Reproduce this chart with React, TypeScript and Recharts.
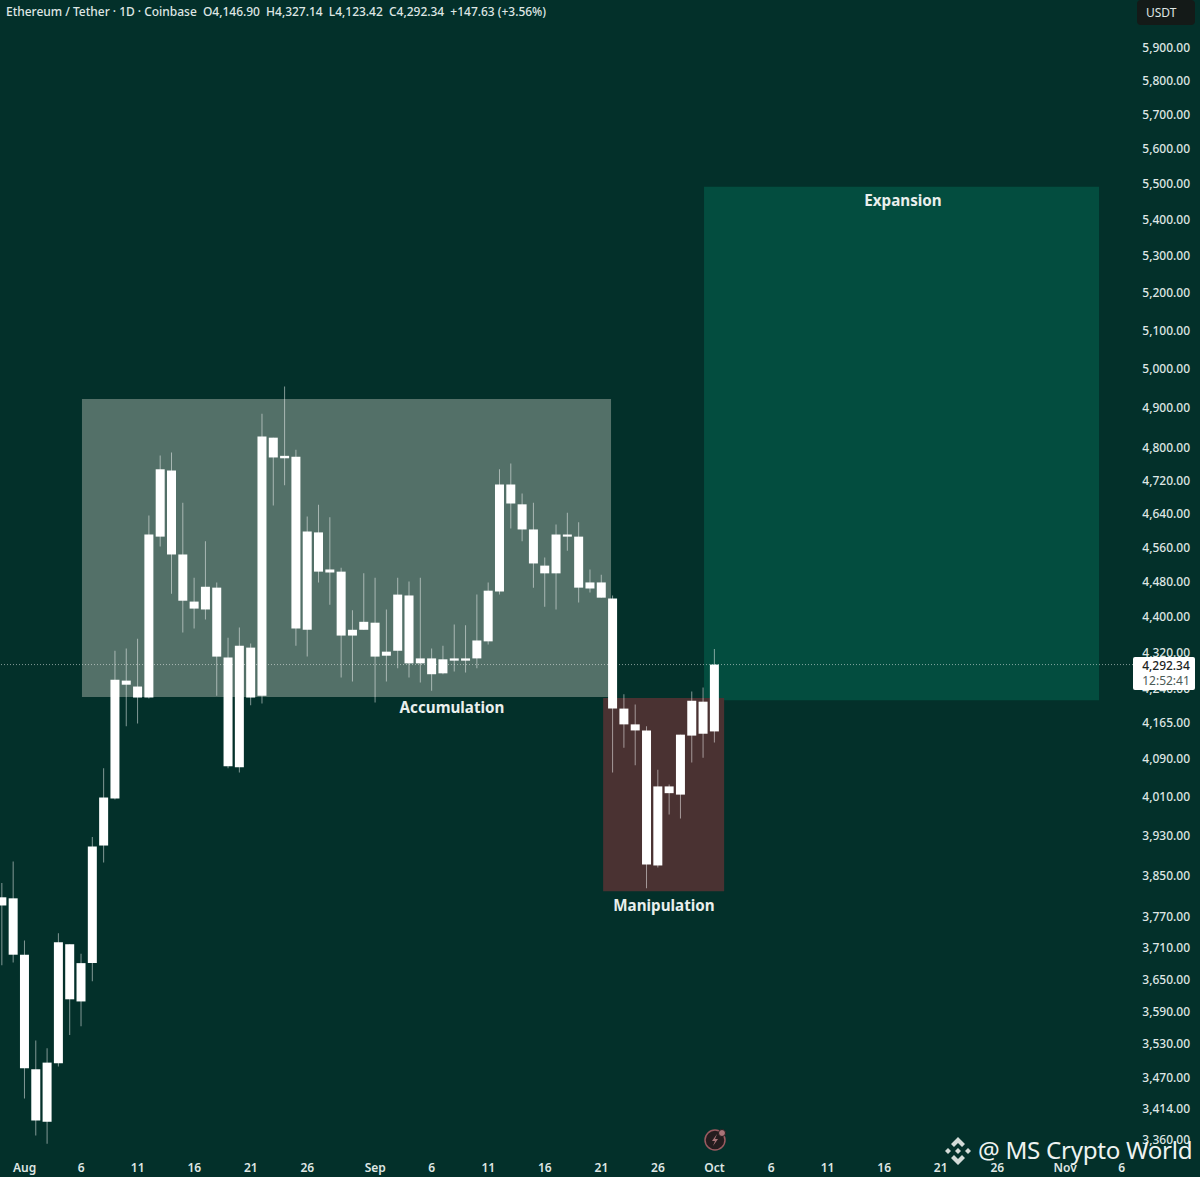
import { Bar, ComposedChart, ReferenceArea, ReferenceLine, XAxis, YAxis } from "recharts";

const opens = [3807, 3805, 3696, 3484, 3391, 3495, 3716, 3608, 3680, 3910, 4006, 4257, 4244, 4220, 4585, 4744, 4543, 4434, 4416, 4466, 4308, 4071, 4330, 4224, 4825, 4780, 4778, 4370, 4595, 4508, 4503, 4357, 4370, 4386, 4321, 4323, 4448, 4306, 4306, 4273, 4301, 4301, 4306, 4344, 4457, 4710, 4662, 4602, 4517, 4499, 4590, 4585, 4464, 4478, 4441, 4196, 4162, 4149, 3870, 4031, 4014, 4138, 4211, 4146.9];
const highs = [3835, 3878, 3723, 3536, 3522, 3737, 3716, 3698, 3927, 4069, 4323, 4328, 4350, 4635, 4781, 4788, 4666, 4489, 4574, 4478, 4352, 4375, 4339, 4885, 4825, 4954, 4795, 4633, 4661, 4631, 4512, 4414, 4499, 4489, 4416, 4489, 4480, 4489, 4328, 4334, 4382, 4380, 4450, 4478, 4747, 4761, 4688, 4666, 4536, 4614, 4642, 4619, 4508, 4496, 4448, 4227, 4205, 4158, 4066, 4035, 4140, 4233, 4242, 4327.14];
const lows = [3676, 3681, 3432, 3367, 3353, 3489, 3546, 3562, 3646, 3876, 4004, 4158, 4164, 4218, 4562, 4452, 4364, 4373, 4393, 4224, 4069, 4060, 4203, 4207, 4659, 4708, 4334, 4310, 4478, 4427, 4264, 4255, 4370, 4209, 4255, 4284, 4264, 4253, 4235, 4271, 4277, 4275, 4284, 4337, 4450, 4604, 4574, 4466, 4422, 4416, 4552, 4432, 4455, 4443, 4060, 4112, 4075, 3825, 3866, 3973, 3965, 4081, 4091, 4123.42];
const closes = [3791, 3696, 3486, 3393, 3496, 3720, 3612, 3680, 3908, 4008, 4259, 4248, 4220, 4590, 4747, 4543, 4436, 4418, 4468, 4310, 4073, 4334, 4220, 4828, 4776, 4774, 4373, 4597, 4503, 4501, 4357, 4370, 4388, 4310, 4312, 4450, 4295, 4295, 4271, 4304, 4306, 4306, 4346, 4459, 4710, 4664, 4602, 4522, 4499, 4590, 4585, 4466, 4478, 4443, 4196, 4162, 4149, 3872, 4031, 4017, 4140, 4213, 4142, 4292.34];

const priceTicks = [5900, 5800, 5700, 5600, 5500, 5400, 5300, 5200, 5100, 5000, 4900, 4800, 4720, 4640, 4560, 4480, 4400, 4320, 4240, 4165, 4090, 4010, 3930, 3850, 3770, 3710, 3650, 3590, 3530, 3470, 3414, 3360];
const dayTicks = [2, 7, 12, 17, 22, 27, 33, 38, 43, 48, 53, 58, 63, 68, 73, 78, 83, 88, 94, 99];
const dayLabels = ["Aug", "6", "11", "16", "21", "26", "Sep", "6", "11", "16", "21", "26", "Oct", "6", "11", "16", "21", "26", "Nov", "6"];

const lastPrice = 4292.34;

const candles = opens.map((open, i) => ({ day: i, open, high: highs[i], low: lows[i], close: closes[i] }));

const BG = "#03302a";
const TEXT = "#dfe6e4";
const FONT = "'Noto Sans', sans-serif";

function label(text: string, left: number, top: number) {
  return (
    <div
      style={{
        position: "absolute",
        left,
        top,
        transform: "translateX(-50%)",
        color: "#e9efed",
        fontFamily: FONT,
        fontWeight: 700,
        fontSize: 15.2,
        lineHeight: "18px",
        whiteSpace: "nowrap",
      }}
    >
      {text}
    </div>
  );
}

function PriceTick({ y, payload }: any) {
  return (
    <text x={1190} y={y + 4.5} textAnchor="end" fill={TEXT} fontFamily={FONT} fontSize={12} fontWeight={500}>
      {payload.value.toLocaleString("en-US", { minimumFractionDigits: 2 })}
    </text>
  );
}

export default function App() {
  return (
    <div style={{ position: "absolute", left: 0, top: 0, width: 1200, height: 1177, background: BG, overflow: "hidden" }}>
      <ComposedChart width={1200} height={1177} data={candles} margin={{ top: 0, right: 0, bottom: 0, left: 0 }}>
        <XAxis
          xAxisId="body"
          dataKey="day"
          type="number"
          domain={[-0.177, 100]}
          allowDataOverflow
          ticks={dayTicks}
          interval={0}
          height={27}
          axisLine={false}
          tickLine={false}
          tickMargin={7}
          tickFormatter={(v: number) => dayLabels[dayTicks.indexOf(v)]}
          tick={{ fill: TEXT, fontFamily: FONT, fontSize: 12, fontWeight: 600 }}
        />
        <XAxis xAxisId="wick" dataKey="day" type="number" domain={[-0.177, 100]} allowDataOverflow hide />
        <YAxis
          orientation="right"
          width={67}
          scale="log"
          domain={[3342, 6046.3]}
          allowDataOverflow
          ticks={priceTicks}
          interval={0}
          axisLine={false}
          tickLine={false}
          tick={PriceTick}
        />
        <ReferenceArea xAxisId="body" x1={62.07} x2={97} y1={4214} y2={5491} fill="#034d3f" fillOpacity={1} stroke="none" />
        <ReferenceArea xAxisId="body" x1={7.07} x2={53.85} y1={4221} y2={4922} fill="#537068" fillOpacity={1} stroke="none" />
        <ReferenceArea xAxisId="body" x1={53.15} x2={63.85} y1={3819} y2={4219} fill="#4a3232" fillOpacity={1} stroke="none" />
        <ReferenceLine xAxisId="body" y={lastPrice} stroke="#ffffff" strokeOpacity={0.5} strokeDasharray="1 2" />
        <Bar xAxisId="wick" dataKey={(d: any) => [d.low, d.high]} barSize={1} fill="#ffffff" fillOpacity={0.5} isAnimationActive={false} />
        <Bar xAxisId="body" dataKey={(d: any) => [d.open, d.close]} barSize={9} fill="#ffffff" isAnimationActive={false} />
      </ComposedChart>

      <div style={{ position: "absolute", left: 6, top: 3, color: TEXT, fontFamily: FONT, fontSize: 12, fontWeight: 500, lineHeight: "17px", letterSpacing: -0.02, whiteSpace: "pre" }}>
        {"Ethereum / Tether · 1D · Coinbase  O4,146.90  H4,327.14  L4,123.42  C4,292.34  +147.63 (+3.56%)"}
      </div>

      <div style={{ position: "absolute", left: 1137, top: 0, width: 58, height: 25, borderRadius: 4, background: "#141a18", color: TEXT, fontFamily: FONT, fontSize: 12, lineHeight: "25px", paddingLeft: 9, boxSizing: "border-box" }}>
        USDT
      </div>

      <div style={{ position: "absolute", left: 1133, top: 657, width: 62, height: 33, background: "#ffffff", color: "#1c2321", fontFamily: FONT, fontSize: 12, lineHeight: "15px", textAlign: "center", paddingTop: 1, paddingLeft: 4, boxSizing: "border-box", borderRadius: 2 }}>
        <div style={{ fontWeight: 500 }}>4,292.34</div>
        <div style={{ color: "#4c5a56" }}>12:52:41</div>
      </div>

      {label("Expansion", 903, 191)}
      {label("Accumulation", 452, 698)}
      {label("Manipulation", 664, 896)}

      <svg style={{ position: "absolute", left: 700, top: 1125 }} width={30} height={30}>
        <circle cx={15} cy={15} r={10} fill="#241c1e" stroke="#9a5a60" strokeWidth={1.5} />
        <path d="M17 9 L12 16 L15 16 L13 21 L18 14 L15 14 Z" fill="#a97478" />
        <circle cx={22} cy={8} r={3.5} fill="#a97478" stroke="#241c1e" />
      </svg>

      <svg style={{ position: "absolute", left: 944, top: 1137 }} width={28} height={28} viewBox="0 0 28 28" fill="#d3dbd8">
        <path d="M14 0 L21 7 L18 10 L14 6 L10 10 L7 7 Z" />
        <path d="M14 28 L21 21 L18 18 L14 22 L10 18 L7 21 Z" />
        <path d="M14 11 L17 14 L14 17 L11 14 Z" />
        <path d="M4 11 L7 14 L4 17 L1 14 Z" />
        <path d="M24 11 L27 14 L24 17 L21 14 Z" />
      </svg>
      <div style={{ position: "absolute", left: 978, top: 1133, color: "#eef3f1", fontFamily: FONT, fontSize: 24.2, lineHeight: "34px", letterSpacing: -0.3, whiteSpace: "nowrap" }}>
        @ MS Crypto World
      </div>
    </div>
  );
}
